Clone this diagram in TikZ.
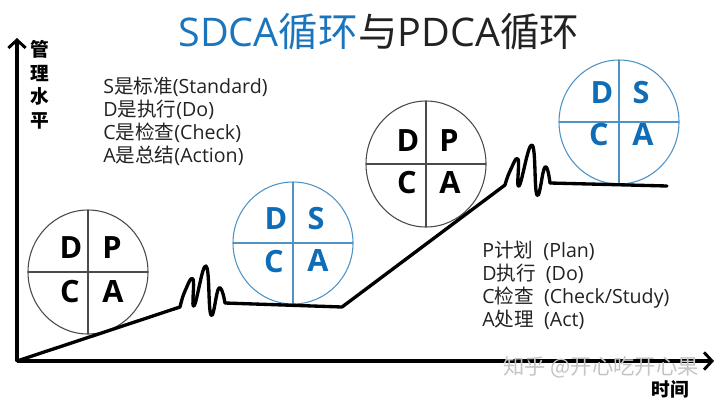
\documentclass[tikz,border=0pt]{standalone}
\usepackage{fontspec}
\setmainfont{Open Sans}
\newfontfamily\cjk{Noto Sans CJK SC}
\usetikzlibrary{arrows.meta}

\definecolor{titleBlue}{HTML}{1B75BC}
\definecolor{letterBlue}{HTML}{0F6CB6}
\definecolor{ringBlue}{HTML}{4F93C4}
\definecolor{ringGray}{HTML}{4A4A4A}
\definecolor{textGray}{HTML}{222222}
\definecolor{markGray}{HTML}{C4C4C4}

\tikzset{
    axisLine/.style={black, line width=2.4pt, -{Straight Barb[length=6pt,width=13pt,line width=2.2pt]}},
    trendLine/.style={black, line width=2.5pt, line join=round, line cap=round},
    noteText/.style={anchor=north west, align=left, inner sep=0pt, text=textGray, font=\fontsize{14.7}{17.25}\selectfont},
    pdcaLetter/.style={black, inner sep=0pt, font=\fontsize{23}{23}\selectfont\bfseries},
    sdcaLetter/.style={letterBlue, inner sep=0pt, font=\fontsize{23}{23}\selectfont\bfseries},
    axisText/.style={black, inner sep=0pt, align=center, font=\fontsize{14}{17.6}\selectfont\cjk\bfseries}
}

\begin{document}
\begin{tikzpicture}[x=0.75pt, y=-0.75pt]
    \useasboundingbox (0,0) rectangle (720,400);

    \node[inner sep=0pt, text=titleBlue, anchor=east, font=\fontsize{29.6}{29.6}\selectfont] (titleLeft) at (358,32) {SDCA{\cjk 循环}};
    \node[inner sep=0pt, text=textGray, anchor=west, font=\fontsize{29.6}{29.6}\selectfont] (titleRight) at (titleLeft.east) {{\cjk 与}PDCA{\cjk 循环}};

    \node[noteText] (sdcaNote) at (103,77) {S{\cjk 是标准}(Standard)\\D{\cjk 是执行}(Do)\\C{\cjk 是检查}(Check)\\A{\cjk 是总结}(Action)};
    \node[noteText] (pdcaNote) at (482,241) {P{\cjk 计划}\ \ (Plan)\\D{\cjk 执行}\ \ (Do)\\C{\cjk 检查}\ \ (Check/Study)\\A{\cjk 处理}\ \ (Act)};

    \draw[ringGray, line width=0.8pt] (88,272) ellipse (60 and 62);
    \draw[ringGray, line width=0.8pt] (28,272) -- (148,272);
    \draw[ringGray, line width=0.8pt] (88,210) -- (88,334);
    \node[pdcaLetter] (firstD) at (71,248) {D};
    \node[pdcaLetter] (firstP) at (112,248) {P};
    \node[pdcaLetter] (firstC) at (70,292) {C};
    \node[pdcaLetter] (firstA) at (113,292) {A};

    \draw[ringBlue, line width=0.8pt] (293,243) ellipse (60 and 61);
    \draw[ringBlue, line width=0.8pt] (233,243) -- (353,243);
    \draw[ringBlue, line width=0.8pt] (293,182) -- (293,304);
    \node[sdcaLetter] (secondD) at (276,219) {D};
    \node[sdcaLetter] (secondS) at (316,219) {S};
    \node[sdcaLetter] (secondC) at (274,262) {C};
    \node[sdcaLetter] (secondA) at (318,261) {A};

    \draw[ringGray, line width=0.8pt] (426,164) ellipse (60 and 63);
    \draw[ringGray, line width=0.8pt] (366,164) -- (486,164);
    \draw[ringGray, line width=0.8pt] (426,101) -- (426,227);
    \node[pdcaLetter] (thirdD) at (408,141) {D};
    \node[pdcaLetter] (thirdP) at (449,141) {P};
    \node[pdcaLetter] (thirdC) at (407,183) {C};
    \node[pdcaLetter] (thirdA) at (450,183) {A};

    \draw[ringBlue, line width=0.8pt] (619,122) ellipse (60 and 62);
    \draw[ringBlue, line width=0.8pt] (559,122) -- (679,122);
    \draw[ringBlue, line width=0.8pt] (619,60) -- (619,184);
    \node[sdcaLetter] (fourthD) at (602,93) {D};
    \node[sdcaLetter] (fourthS) at (641,93) {S};
    \node[sdcaLetter] (fourthC) at (599,135) {C};
    \node[sdcaLetter] (fourthA) at (643,135) {A};

    \coordinate (origin) at (17,361);
    \coordinate (yTip) at (17,38);
    \coordinate (xTip) at (714,361);
    \coordinate (firstRise) at (180,307);
    \coordinate (firstFlat) at (225,303);
    \coordinate (secondBend) at (342,307);
    \coordinate (secondRise) at (505,185);
    \coordinate (secondFlat) at (550,183);
    \coordinate (lineEnd) at (667,186);

    \draw[axisLine] (origin) -- (yTip);
    \draw[axisLine] (origin) -- (xTip);

    \draw[trendLine] (origin) -- (firstRise);
    \draw[trendLine] plot[smooth, tension=0.8] coordinates {(180,307) (185,291) (193,279) (194,306) (206,266) (211,315) (219,288) (225,303)};
    \draw[trendLine] (firstFlat) -- (secondBend) -- (secondRise);
    \draw[trendLine] plot[smooth, tension=0.8] coordinates {(505,185) (510,171) (518,159) (519,186) (532,145) (537,195) (545,167) (550,183)};
    \draw[trendLine] (secondFlat) -- (lineEnd);

    \node[axisText] (yLabel) at (40,85) {管\\理\\水\\平};
    \node[axisText] (xLabel) at (670,389) {时间};
    \node[inner sep=0pt, text=markGray, anchor=west, font=\fontsize{16}{16}\selectfont\cjk] (watermark) at (503,367) {知乎 @开心吃开心果};
\end{tikzpicture}
\end{document}
